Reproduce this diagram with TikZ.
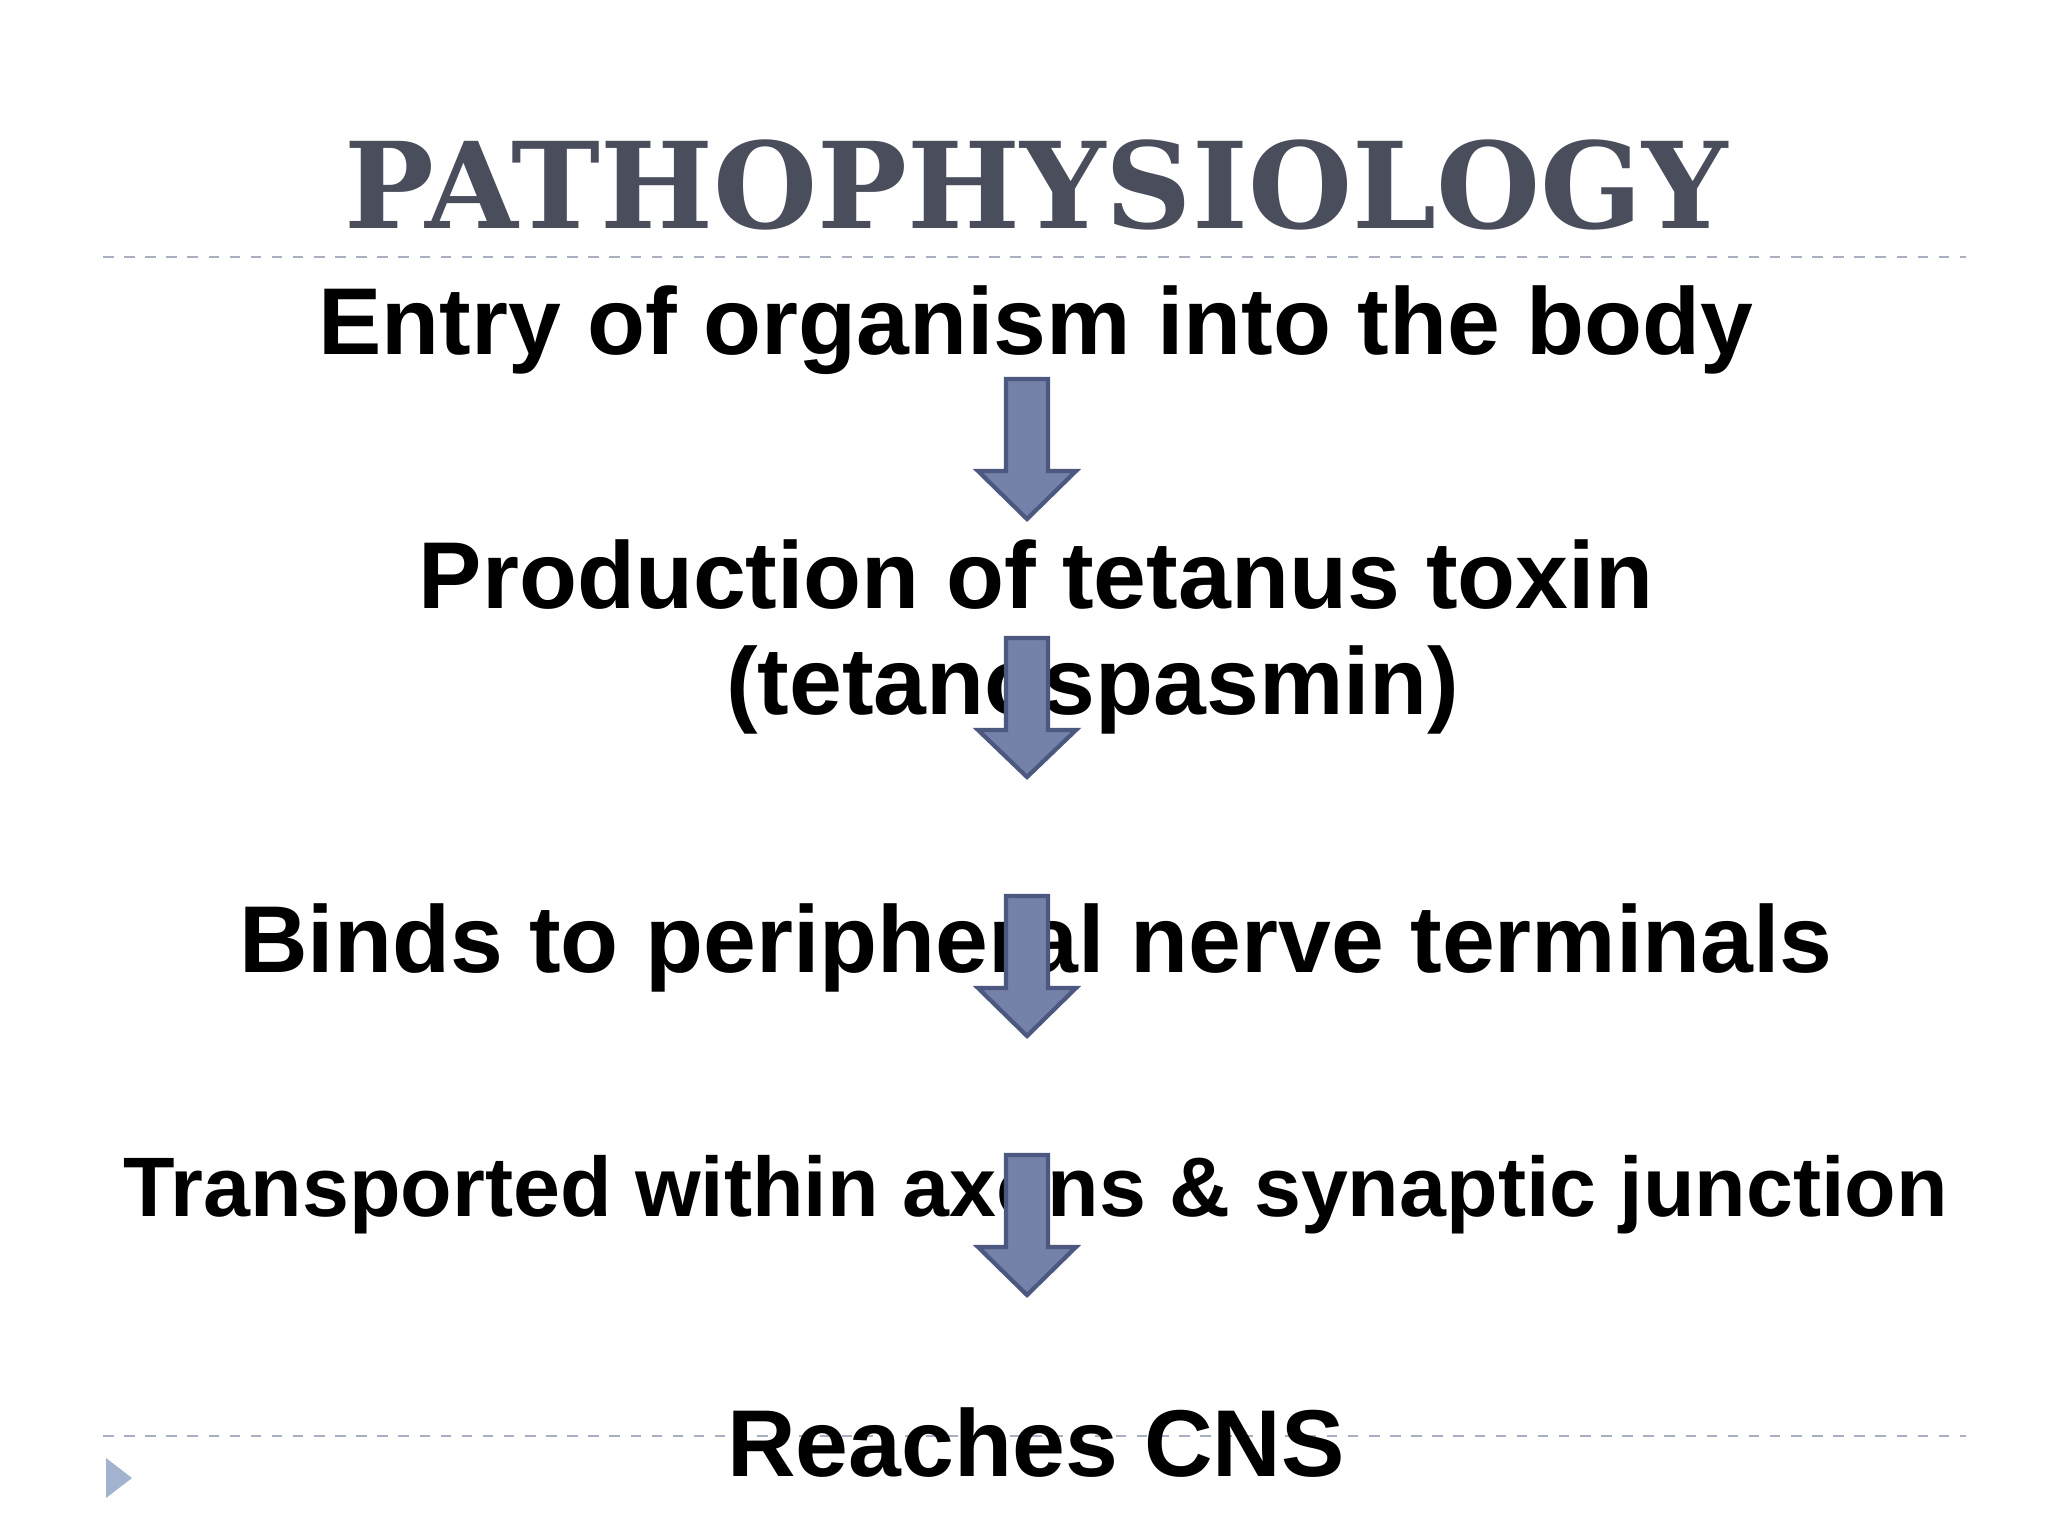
\documentclass[tikz,border=0pt]{standalone}
\usepackage{fontspec}
\setmainfont{Liberation Sans}
\newfontfamily\titlefont{DejaVu Serif}
\definecolor{titlec}{HTML}{4A4D5C}
\definecolor{arrf}{HTML}{7481A9}
\definecolor{arrd}{HTML}{4D5880}
\definecolor{dashc}{HTML}{A8B0C0}
\definecolor{tric}{HTML}{A3B3CF}
\tikzset{
 txt/.style={font=\bfseries\fontsize{27}{32}\selectfont, align=center, inner sep=0pt},
 blk/.style={fill=arrf, draw=arrd, line width=1.2pt, line join=miter},
 sep/.style={draw=dashc, dashed, line width=0.8pt}
}
\begin{document}
\begin{tikzpicture}[x=0.01cm,y=-0.01cm]
\useasboundingbox (0,0) rectangle (2048,1536);
\fill[white] (0,0) rectangle (2048,1536);
\node[font=\titlefont\bfseries\fontsize{34}{40}\selectfont, text=titlec, inner sep=0pt] (title) at (1036,185) {PATHOPHYSIOLOGY};
\coordinate (l1a) at (103,257); \coordinate (l1b) at (1966,257);
\coordinate (l2a) at (103,1436); \coordinate (l2b) at (1966,1436);
\draw[sep] (l1a) -- (l1b);
\draw[sep] (l2a) -- (l2b);
\node[txt] (a) at (1036,330) {Entry of organism into the body};
\node[txt] (b) at (1036,637) {Production of tetanus toxin\\[-2pt]\hspace*{1.2em}(tetanospasmin)};
\node[txt] (c) at (1036,948) {Binds to peripheral nerve terminals};
\node[txt, font=\bfseries\fontsize{24}{28}\selectfont] (d) at (1036,1195) {Transported within axons \& synaptic junction};
\node[txt] (e) at (1036,1443) {Reaches CNS};
\foreach \t/\h/\b in {379/471/519, 638/730/777, 896/988/1036, 1155/1247/1295}{
 \draw[blk] (1006,\t) -- (1048,\t) -- (1048,\h) -- (1076,\h) -- (1027,\b) -- (978,\h) -- (1006,\h) -- cycle;
}
\fill[tric] (106,1458) -- (132,1478) -- (106,1498) -- cycle;
\end{tikzpicture}
\end{document}
